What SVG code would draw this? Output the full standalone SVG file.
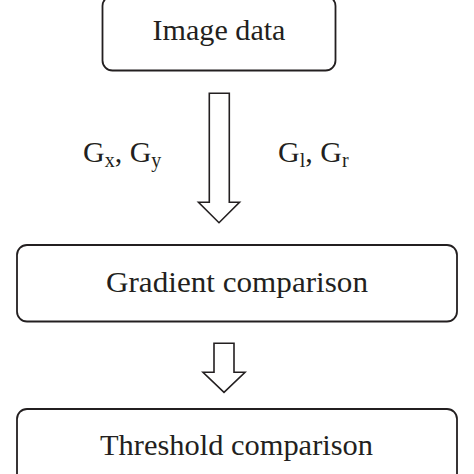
<svg xmlns="http://www.w3.org/2000/svg" width="474" height="474" viewBox="0 0 474 474">
<style>
.box{fill:#fff;stroke:#231f20;stroke-width:1.8}
.arr{fill:#fff;stroke:#231f20;stroke-width:1.6;stroke-linejoin:miter}
.t{font-family:"Liberation Serif","DejaVu Serif",serif;font-size:29px;fill:#231f20;text-anchor:middle}
.l{font-family:"Liberation Serif","DejaVu Serif",serif;font-size:30px;fill:#231f20}
.s{font-size:20px}
</style>
<rect width="474" height="474" fill="#fff"/>
<g id="node-image-data">
<rect class="box" x="102.5" y="-4" width="233" height="74.5" rx="10"/>
<text class="t" x="219" y="39.5" textLength="133" lengthAdjust="spacingAndGlyphs">Image data</text>
</g>
<g id="node-gradient">
<rect class="box" x="17" y="245" width="440" height="76.5" rx="10"/>
<text class="t" x="237" y="291.5" textLength="262" lengthAdjust="spacingAndGlyphs">Gradient comparison</text>
</g>
<g id="node-threshold">
<rect class="box" x="17" y="409" width="440" height="80" rx="10"/>
<text class="t" x="236.5" y="455" textLength="273" lengthAdjust="spacingAndGlyphs">Threshold comparison</text>
</g>
<g id="connectors">
<polygon class="arr" points="209.3,93.3 229.3,93.3 229.3,202.3 239.5,202.3 219,222.7 198.5,202.3 209.3,202.3"/>
<polygon class="arr" points="214,343.3 234,343.3 234,372.3 245,372.3 224,392.3 203,372.3 214,372.3"/>
</g>
<g id="labels">
<text class="l" x="83" y="162">G<tspan class="s" dy="5">x</tspan><tspan dy="-5">, G</tspan><tspan class="s" dy="5">y</tspan></text>
<text class="l" x="278" y="162">G<tspan class="s" dy="5">l</tspan><tspan dy="-5">, G</tspan><tspan class="s" dy="5">r</tspan></text>
</g>
</svg>
